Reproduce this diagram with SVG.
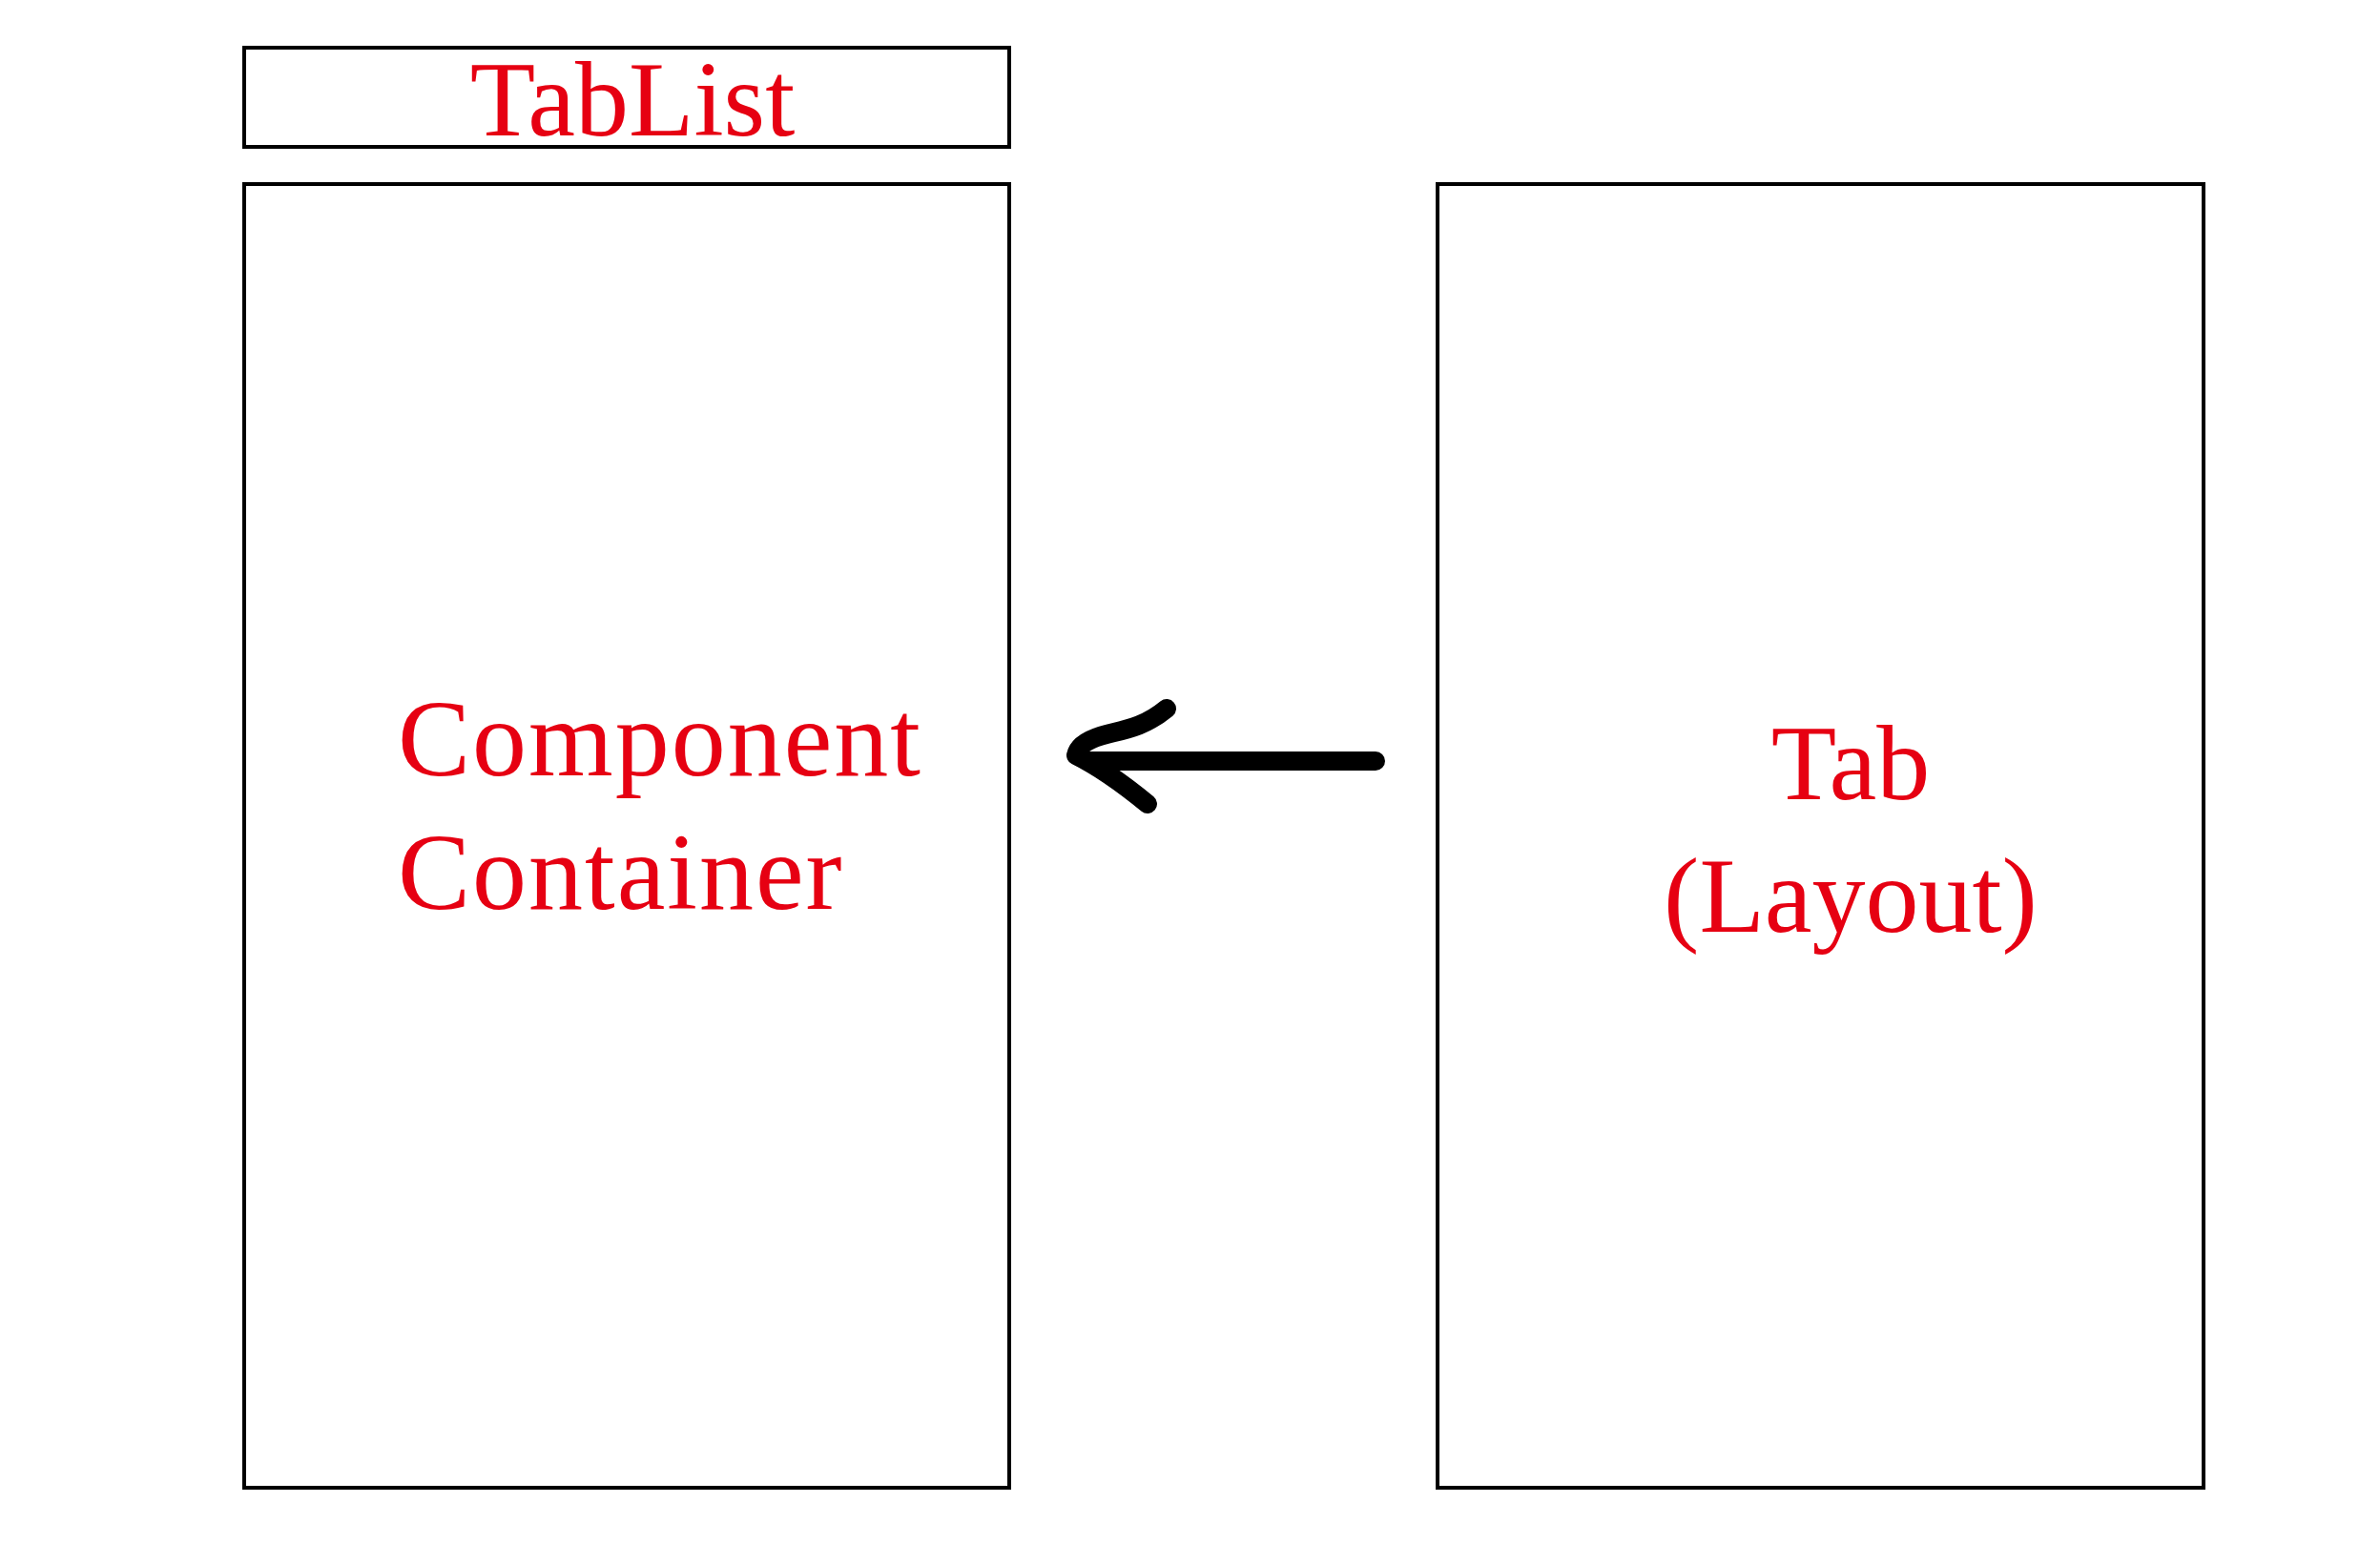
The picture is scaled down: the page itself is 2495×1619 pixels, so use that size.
<svg xmlns="http://www.w3.org/2000/svg" width="2495" height="1619" viewBox="0 0 2495 1619">
<style>
.box{fill:#fff;stroke:#000;stroke-width:4}
.lbl{fill:#e60012;font-family:"Liberation Serif","Times New Roman",serif;font-size:112px}
.conn{fill:none;stroke:#000;stroke-width:20;stroke-linecap:round;stroke-linejoin:round}
</style>
<rect width="2495" height="1619" fill="#fff"/>
<g id="tablist">
<rect class="box" x="256" y="50" width="802" height="104"/>
<text class="lbl" x="663" y="142" text-anchor="middle">TabList</text>
</g>
<g id="component-container">
<rect class="box" x="256" y="193" width="802" height="1367"/>
<text class="lbl" x="417" y="813" style="font-size:114px;letter-spacing:2px">Component</text>
<text class="lbl" x="417" y="953" style="font-size:114px;letter-spacing:2px">Container</text>
</g>
<g id="tab">
<rect class="box" x="1507" y="193" width="803" height="1367"/>
<text class="lbl" x="1940" y="838" text-anchor="middle">Tab</text>
<text class="lbl" x="1940" y="977" text-anchor="middle">(Layout)</text>
</g>
<g id="connectors">
<path class="conn" d="M1442 798 H1140"/>
<path class="conn" d="M1223 743 C1200 762 1180 765 1160 770 C1140 775 1130 782 1128 792 C1150 803 1175 820 1203 843"/>
</g>
</svg>
